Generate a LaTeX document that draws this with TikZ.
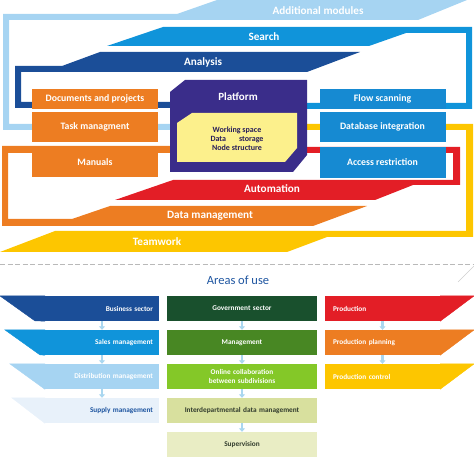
\documentclass[tikz,border=0pt]{standalone}
\usepackage{fontspec}
\setmainfont{Carlito}
\usepackage{tikz}
\usetikzlibrary{arrows.meta}

\definecolor{addblue}{RGB}{166, 212, 242}
\definecolor{searchblue}{RGB}{16, 148, 218}
\definecolor{darkblue}{RGB}{27, 78, 152}
\definecolor{platpurple}{RGB}{58, 45, 138}
\definecolor{paleyellow}{RGB}{252, 240, 140}
\definecolor{inktext}{RGB}{40, 30, 90}
\definecolor{orangecol}{RGB}{237, 125, 34}
\definecolor{boxblue}{RGB}{22, 138, 210}
\definecolor{redcol}{RGB}{227, 30, 38}
\definecolor{yellowcol}{RGB}{253, 198, 0}
\definecolor{govgreen}{RGB}{25, 80, 45}
\definecolor{mangreen}{RGB}{72, 135, 35}
\definecolor{onlgreen}{RGB}{132, 200, 40}
\definecolor{intolive}{RGB}{216, 224, 158}
\definecolor{suppale}{RGB}{233, 237, 196}
\definecolor{supplyblue}{RGB}{232, 241, 250}
\definecolor{arrowblue}{RGB}{170, 215, 240}
\definecolor{titleblue}{RGB}{30, 85, 160}
\definecolor{darkink}{RGB}{50, 60, 45}
\definecolor{sepgray}{RGB}{185, 185, 185}

\tikzset{
  modbox/.style = {text = white, inner sep = 0, minimum width = 126pt, font = \fontsize{9.8}{12}\selectfont\bfseries},
  bandlabel/.style = {text = white, inner sep = 0, font = \fontsize{11.2}{13}\selectfont\bfseries},
  usebox/.style = {inner sep = 0, minimum height = 25pt, font = \fontsize{7.3}{9.5}\selectfont\bfseries},
  leftuse/.style = {usebox, minimum width = 114pt, text width = 102pt, align = right},
  miduse/.style = {usebox, minimum width = 150pt, text width = 140pt, align = center},
  rightuse/.style = {usebox, minimum width = 115pt, text width = 99pt, align = left, text = white},
  usearrow/.style = {arrowblue, line width = 2.5pt, -{Triangle[width = 6pt, length = 3.5pt]}}
}

\begin{document}
\begin{tikzpicture}[x = 1pt, y = -1pt]
    \useasboundingbox (0, 0) rectangle (474, 457);

    % module frames
    \fill [addblue] (3, 14) -- (177, 14) -- (217, 0) -- (467, 0) -- (418, 20) -- (9, 20) -- (9, 124) -- (175, 124) -- (175, 130) -- (3, 130) -- cycle;
    \fill [searchblue] (107, 46) -- (163, 27) -- (472, 27) -- (472, 109) -- (300, 109) -- (300, 103) -- (466, 103) -- (466, 33) -- (406, 33) -- (369, 46) -- cycle;
    \fill [darkblue] (15, 66) -- (62, 66) -- (100, 52) -- (360, 52) -- (307, 72) -- (21, 72) -- (21, 102) -- (175, 102) -- (175, 108) -- (15, 108) -- cycle;
    \fill [orangecol] (2, 146) -- (175, 146) -- (175, 153) -- (8, 153) -- (8, 219) -- (72, 219) -- (110, 206) -- (367, 206) -- (313, 226) -- (2, 226) -- cycle;
    \fill [redcol] (173, 180) -- (453, 180) -- (453, 153) -- (300, 153) -- (300, 147) -- (460, 147) -- (460, 185) -- (413, 185) -- (375, 200) -- (115, 200) -- cycle;
    \fill [yellowcol] (0, 252) -- (55, 231) -- (466, 231) -- (466, 130) -- (300, 130) -- (300, 124) -- (473, 124) -- (473, 237) -- (327, 237) -- (287, 252) -- cycle;

    \node [bandlabel] (addlbl) at (318, 11) {Additional modules};
    \node [bandlabel] (searchlbl) at (264, 37) {Search};
    \node [bandlabel] (analysislbl) at (203, 62) {Analysis};
    \node [bandlabel] (autolbl) at (272, 189) {Automation};
    \node [bandlabel] (datalbl) at (210, 216) {Data management};
    \node [bandlabel] (teamlbl) at (157, 242) {Teamwork};

    % platform
    \fill [platpurple] (170, 92) -- (185, 80) -- (307, 80) -- (307, 155) -- (293, 172) -- (170, 172) -- cycle;
    \fill [paleyellow] (177, 123) -- (192, 113) -- (297, 113) -- (297, 148) -- (285, 162) -- (177, 162) -- cycle;
    \node [text = white, font = \fontsize{11}{13}\selectfont\bfseries] (plat) at (238, 97) {Platform};
    \node [text = inktext, align = center, font = \fontsize{8}{9}\selectfont\bfseries] (core) at (237, 139) {Working space\\\makebox[53pt][s]{Data storage}\\Node structure};

    % modules
    \node [modbox, fill = orangecol, minimum height = 20pt] (docs) at (95, 99) {Documents and projects};
    \node [modbox, fill = orangecol, minimum height = 30pt] (tasks) at (95, 127) {Task managment};
    \node [modbox, fill = orangecol, minimum height = 30pt] (manuals) at (95, 162) {Manuals};
    \node [modbox, fill = boxblue, minimum height = 20pt] (flow) at (382.5, 99) {Flow scanning};
    \node [modbox, fill = boxblue, minimum height = 30pt] (dbint) at (382.5, 127) {Database integration};
    \node [modbox, fill = boxblue, minimum height = 31pt] (access) at (382.5, 162.5) {Access restriction};

    % areas of use
    \draw [sepgray, line width = 0.8pt, dash pattern = on 5pt off 2.5pt] (0, 264) -- (474, 264);
    \draw [sepgray!70, line width = 0.5pt] (458, 282) -- (474, 266);
    \node [text = titleblue, font = \fontsize{12.5}{14}\selectfont] (areas) at (238, 280) {Areas of use};

    \node [leftuse, fill = darkblue, text = white] (biz) at (102, 308.5) {Business sector};
    \node [leftuse, fill = searchblue, text = white] (sales) at (102, 342.5) {Sales management};
    \node [leftuse, fill = addblue, text = white] (distr) at (102, 376.5) {Distribution management};
    \node [leftuse, fill = supplyblue, text = titleblue] (supply) at (102, 410.5) {Supply management};
    \filldraw [darkblue, line width = 0.4pt] (biz.north west) -- +(-45, 0) -- +(-10, 25) -- (biz.south west) -- cycle;
    \filldraw [searchblue, line width = 0.4pt] (sales.north west) -- +(-40, 0) -- +(-5, 25) -- (sales.south west) -- cycle;
    \filldraw [addblue, line width = 0.4pt] (distr.north west) -- +(-35, 0) -- (distr.south west) -- cycle;
    \filldraw [supplyblue, line width = 0.4pt] (supply.north west) -- +(-33, 0) -- (supply.south west) -- cycle;

    \node [miduse, fill = govgreen, text = white] (gov) at (242, 308.5) {Government sector};
    \node [miduse, fill = mangreen, text = white] (mgmt) at (242, 342.5) {Management};
    \node [miduse, fill = onlgreen, text = white] (online) at (242, 376.5) {Online collaboration\\between subdivisions};
    \node [miduse, fill = intolive, text = darkink] (interdep) at (242, 410.5) {Interdepartmental data management};
    \node [miduse, fill = suppale, text = darkink] (superv) at (242, 444.5) {Supervision};

    \node [rightuse, fill = redcol] (prod) at (382.5, 308.5) {Production};
    \node [rightuse, fill = orangecol] (plan) at (382.5, 342.5) {Production planning};
    \node [rightuse, fill = yellowcol] (control) at (382.5, 376.5) {Production control};
    \filldraw [redcol, line width = 0.4pt] (prod.north east) -- +(34, 0) -- (prod.south east) -- cycle;
    \filldraw [orangecol, line width = 0.4pt] (plan.north east) -- +(34, 0) -- (plan.south east) -- cycle;
    \filldraw [yellowcol, line width = 0.4pt] (control.north east) -- +(34, 0) -- (control.south east) -- cycle;

    \draw [usearrow] (biz) -- (sales);
    \draw [usearrow] (sales) -- (distr);
    \draw [usearrow] (distr) -- (supply);
    \draw [usearrow] (gov) -- (mgmt);
    \draw [usearrow] (mgmt) -- (online);
    \draw [usearrow] (online) -- (interdep);
    \draw [usearrow] (interdep) -- (superv);
    \draw [usearrow] (prod) -- (plan);
    \draw [usearrow] (plan) -- (control);
\end{tikzpicture}
\end{document}
